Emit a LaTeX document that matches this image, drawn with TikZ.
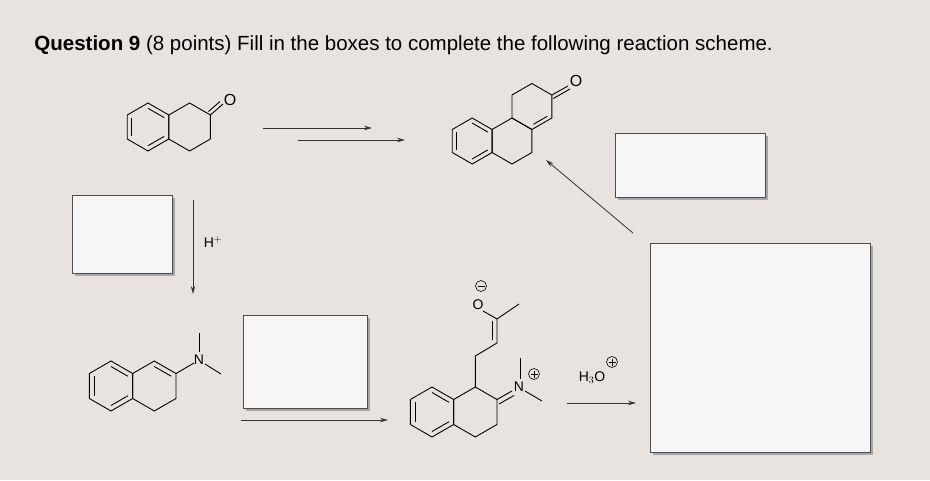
\documentclass[tikz,border=0pt]{standalone}
\usepackage{fontspec}
\setmainfont{Liberation Sans}
\usetikzlibrary{calc,arrows.meta}
\newcommand\hexr[3]{\draw ($(#1,#2)+(30:#3)$) \foreach \a in {90,150,210,270,330}{ -- ($(#1,#2)+(\a:#3)$)} -- cycle;}
\newcommand\benz[3]{\hexr{#1}{#2}{#3}\foreach \a/\b in {270/330,150/210,30/90}{\draw ($(#1,#2)+(\a:0.78*#3)$) -- ($(#1,#2)+(\b:0.78*#3)$);}}
\tikzset{
 arr/.style={-{Stealth[length=8pt,width=4.5pt]},line width=0.8pt,draw=black!80},
 lab/.style={inner sep=0pt,font=\fontsize{14}{14}\selectfont}}
\begin{document}
\begin{tikzpicture}[x=1pt,y=-1pt,line width=0.9pt]
\fill[gray!15!white!92!brown] (0,0) rectangle (930,480);
\useasboundingbox (0,0) rectangle (930,480);
\node[anchor=base west,inner sep=0pt,font=\fontsize{20.5}{20.5}\selectfont] (title) at (34,50) {\textbf{Question 9} (8 points) Fill in the boxes to complete the following reaction scheme.};
% boxes
\foreach \n/\xa/\ya/\xb/\yb in {b1/615/133/765/197, b2/72/195/172/273, b3/243/315/367/408, b4/650/243/870/452}{
 \path[fill=black!35] (\xa+3,\ya+3) rectangle (\xb+3,\yb+3);
 \draw[fill=white!93!gray,draw=black!70] (\xa,\ya) rectangle (\xb,\yb);}
% tetralone
\benz{148}{127}{24}
\hexr{189.6}{127}{24}
\draw (210.4,115) -- (223,104);
\draw (208.5,111.5) -- (220,101.5);
\node[lab,font=\fontsize{16}{16}\selectfont] (o1) at (230,100) {O};
% top arrows
\coordinate (a1s) at (263,128); \coordinate (a1e) at (372,128);
\coordinate (a2s) at (298,140); \coordinate (a2e) at (405,140);
\draw[arr] (a1s) -- (a1e); \draw[arr] (a2s) -- (a2e);
% top product
\benz{472.2}{141}{23}
\hexr{512}{141}{23}
\hexr{531.9}{106.5}{23}
\draw ($(531.9,106.5)+(330:23)$) -- (568,86);
\draw ($(531.9,106.5)+(330:23)$) ++(1.5,3.5) -- (570,89);
\draw ($(531.9,129.5)!0.15!(551.8,118)+(-1.5,-3.5)$) -- ($(551.8,118)!0.15!(531.9,129.5)+(-1.5,-3.5)$);
\node[lab,font=\fontsize{16}{16}\selectfont] (o2) at (576,81) {O};
% diagonal arrow
\coordinate (d1) at (633,233); \coordinate (d2) at (546,160);
\draw[arr] (d1) -- (d2);
% vertical arrow
\coordinate (v1) at (193,200); \coordinate (v2) at (193,294);
\draw[arr] (v1) -- (v2);
\node[lab] (hp) at (213,242) {H$^{+}$};
% enamine
\benz{111}{386}{25}
\hexr{154.3}{386}{25}
\draw ($(154.3,386)!0.78!(154.3,361)$) -- ($(154.3,386)!0.78!(176,373.5)$);
\draw (176,373.5) -- (194,363);
\node[lab] (n1) at (199,360) {N};
\draw (199,352) -- (199,333); \draw (205,364) -- (221,374);
% arrow under box
\coordinate (a3s) at (241,420); \coordinate (a3e) at (388,420);
\draw[arr] (a3s) -- (a3e);
% iminium
\benz{432}{412}{25}
\hexr{475.3}{412}{25}
\draw (497,399.5) -- (512,391);
\draw (499,404) -- (514,395.5);
\node[lab] (n2) at (519,387) {N};
\draw (520,379) -- (520,358); \draw (525,391) -- (542,401);
\draw[line width=0.6pt] (534,374) circle (5.5); \draw[line width=0.6pt] (530.5,374)--(537.5,374) (534,370.5)--(534,377.5);
\draw (475.3,387) -- (475.3,356) -- (497,343) -- (497,319);
\draw (492,340) -- (492,321);
\draw (497,319) -- (483,311); \draw (497,319) -- (519,304);
\node[lab] (o3) at (478,305) {O};
\draw[line width=0.6pt] (481,286) circle (5.5); \draw[line width=0.6pt] (477.5,286)--(484.5,286);
\node[lab] (h3o) at (592,378) {H$_3$O};
\draw[line width=0.6pt] (612,362) circle (5.5); \draw[line width=0.6pt] (608.5,362)--(615.5,362) (612,358.5)--(612,365.5);
\coordinate (a4s) at (567,403); \coordinate (a4e) at (636,403);
\draw[arr] (a4s) -- (a4e);
\end{tikzpicture}
\end{document}
